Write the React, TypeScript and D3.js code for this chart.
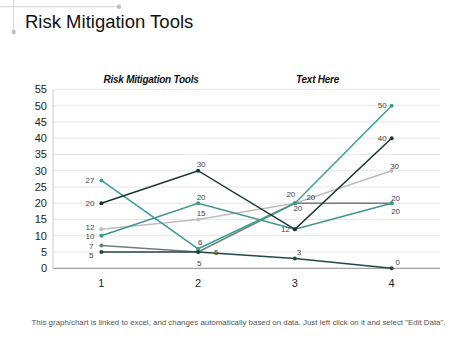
import React from "react";
import * as d3 from "d3";

const categories = [1, 2, 3, 4];
const yTicks = [0, 5, 10, 15, 20, 25, 30, 35, 40, 45, 50, 55];
const seriesA = [20, 30, 12, 40];
const seriesB = [27, 6, 20, 50];
const seriesC = [10, 20, 12, 20];
const seriesD = [12, 15, 20, 30];
const seriesE = [7, 5, 20, 20];
const seriesF = [5, 5, 3, 0];
const headers = ["Risk Mitigation Tools", "Text Here"];
const title = "Risk Mitigation Tools";
const footer =
  'This graph/chart is linked to excel, and changes automatically  based on data. Just left click on it and select "Edit Data".';

// styles (colors and label placements [dx, dy, anchor])
type Lbl = [number, number, string] | null;
const series = [
  {
    values: seriesD,
    color: "#bcbcbc",
    labels: [[-7, -2.5, "end"], [3, -6, "middle"], [16, -6, "middle"], [3, -5, "middle"]] as Lbl[],
  },
  {
    values: seriesE,
    color: "#707d7a",
    labels: [[-8, 0.5, "end"], [18, 0, "middle"], [3, 5, "middle"], [4, -5, "middle"]] as Lbl[],
  },
  {
    values: seriesC,
    color: "#3f958b",
    labels: [[-7, 0.5, "end"], [3, -6, "middle"], null, [4, 8, "middle"]] as Lbl[],
  },
  {
    values: seriesB,
    color: "#3a9d92",
    labels: [[-7, 0, "end"], [2, -7, "middle"], [-4, -9, "middle"], [-5, 0, "end"]] as Lbl[],
  },
  {
    values: seriesF,
    color: "#234746",
    labels: [[-8, 3, "end"], [1, 11, "middle"], [4, -6, "middle"], [6, -6, "middle"]] as Lbl[],
  },
  {
    values: seriesA,
    color: "#1c3232",
    labels: [[-7, 0, "end"], [3, -7, "middle"], [-5, 0, "end"], [-5, 0, "end"]] as Lbl[],
  },
];

export default function App() {
  const W = 474;
  const H = 355;
  const left = 53;
  const right = 440;
  const x = d3.scaleBand<number>().domain(categories).range([left, right]);
  const y = d3.scaleLinear().domain([0, 55]).range([268.3, 89.4]);
  const cx = (c: number) => (x(c) as number) + x.bandwidth() / 2;
  const line = d3
    .line<number>()
    .x((_, i) => cx(categories[i]))
    .y((v) => y(v));
  const font = "'Liberation Sans', Arial, sans-serif";

  return (
    <svg
      width={W}
      height={H}
      style={{ position: "absolute", left: 0, top: 0 }}
      fontFamily={font}
    >
      <rect width={W} height={H} fill="#fff" />
      {/* decor */}
      <line x1={0} y1={6.7} x2={119} y2={6.7} stroke="#d6d6d6" strokeWidth={1} />
      <circle cx={119} cy={6.7} r={2.2} fill="#bfbfbf" />
      <line x1={13.7} y1={0} x2={13.7} y2={32} stroke="#d6d6d6" strokeWidth={1} />
      <circle cx={13.7} cy={32} r={2.2} fill="#bfbfbf" />
      <text x={25} y={28} fontSize={18.5} fill="#111">
        {title}
      </text>

      {/* headers */}
      <text x={151} y={83} fontSize={10} fontWeight="bold" fontStyle="italic" textAnchor="middle" letterSpacing={-0.25} fill="#111">
        {headers[0]}
      </text>
      <text x={317.5} y={83} fontSize={10} fontWeight="bold" fontStyle="italic" textAnchor="middle" letterSpacing={-0.25} fill="#111">
        {headers[1]}
      </text>

      {/* grid */}
      {yTicks.map((t) => (
        <g key={t}>
          {t > 0 && (
            <line x1={left} x2={right} y1={y(t)} y2={y(t)} stroke="#e6e6e6" strokeWidth={1} />
          )}
          <text x={47} y={y(t)} dy="0.35em" fontSize={11} textAnchor="end" fill="#222">
            {t}
          </text>
        </g>
      ))}
      <line x1={left} x2={left} y1={y(55)} y2={y(0)} stroke="#d0d0d0" strokeWidth={1} />
      <line x1={left} x2={right} y1={y(0)} y2={y(0)} stroke="#8a8a8a" strokeWidth={1} />
      {categories.map((c) => (
        <text key={c} x={cx(c)} y={283} dy="0.35em" fontSize={11} textAnchor="middle" fill="#222">
          {c}
        </text>
      ))}

      {/* series */}
      {series.map((s, si) => (
        <g key={si}>
          <path d={line(s.values) as string} fill="none" stroke={s.color} strokeWidth={1.5} />
          {s.values.map((v, i) => (
            <circle key={i} cx={cx(categories[i])} cy={y(v)} r={2} fill={s.color} />
          ))}
        </g>
      ))}
      {series.map((s, si) => (
        <g key={"l" + si}>
          {s.values.map((v, i) => {
            const l = s.labels[i];
            if (!l) return null;
            return (
              <text
                key={i}
                x={cx(categories[i]) + l[0]}
                y={y(v) + l[1]}
                dy="0.35em"
                fontSize={8}
                textAnchor={l[2] as any}
                fill="#444"
              >
                {v}
              </text>
            );
          })}
        </g>
      ))}

      <text x={238.5} y={322.3} dy="0.35em" fontSize={7.9} textAnchor="middle" fill="#555">
        {footer}
      </text>
    </svg>
  );
}
